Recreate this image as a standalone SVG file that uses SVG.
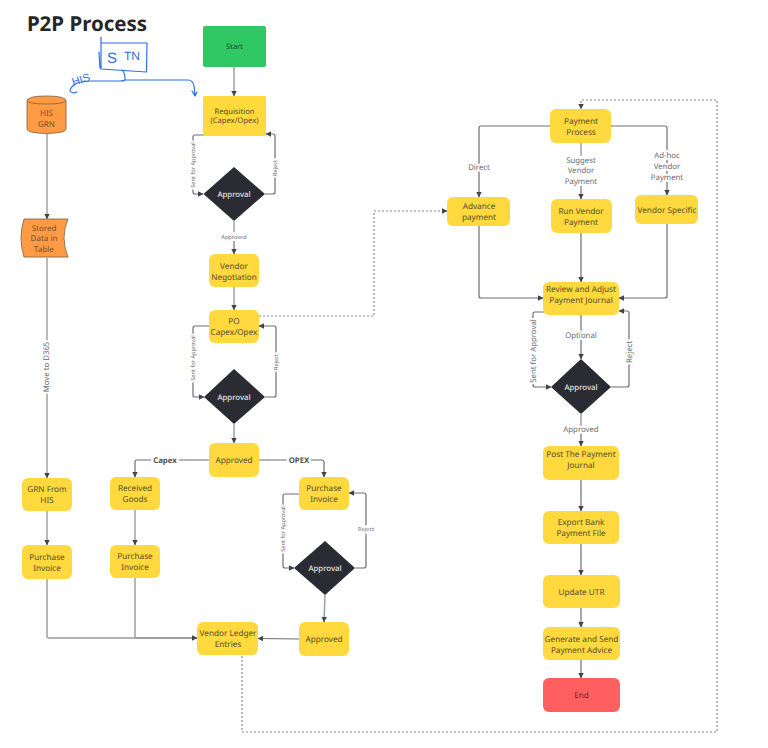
<svg xmlns="http://www.w3.org/2000/svg" width="768" height="748" viewBox="0 0 768 748">
<style>
text{font-family:"Noto Sans","Open Sans","Liberation Sans",sans-serif;text-anchor:middle;text-rendering:geometricPrecision}
.y{fill:#ffd93d}.o{fill:#ff9b45;stroke:#8a6a4a;stroke-width:.9}.k{fill:#2b2b33}
.t{font-size:8.2px;fill:#544c2c}.ts{font-size:7.6px;fill:#544c2c}
.w{font-size:7.8px;fill:#e4e4e4;font-weight:500}
.ot{font-size:8px;fill:#70502f}
.c{fill:none;stroke:#6f6f73;stroke-width:1.2}
.g{fill:none;stroke:#9b9b9e;stroke-width:1.4}
.d{fill:none;stroke:#8a8a8a;stroke-width:1.2;stroke-dasharray:2 2}
.a{marker-end:url(#ah)}
.l{fill:#6a6a6e;paint-order:stroke;stroke:#fff;stroke-width:4px;stroke-linejoin:round}
.l5{font-size:5.6px}.l8{font-size:7.8px}
.b{font-size:7.8px;font-weight:700;fill:#505054;paint-order:stroke;stroke:#fff;stroke-width:5px}
.h{fill:none;stroke:#2f6fe8;stroke-width:1.2;stroke-linecap:round;stroke-linejoin:round}
.ht{font-family:"Liberation Sans",sans-serif;fill:#2f6fe8}
</style>
<defs>
<marker id="ah" viewBox="0 0 6 6" refX="5.6" refY="3" markerWidth="5.5" markerHeight="5.5" markerUnits="userSpaceOnUse" orient="auto"><path d="M0 0L6 3L0 6Z" fill="#444448"/></marker>
</defs>
<rect width="768" height="748" fill="#fff"/>
<text id="title" x="87" y="31" style="font-size:20.5px;font-weight:700;fill:#262626">P2P Process</text>

<g id="connectors">
<path class="g a" d="M234 67V96"/>
<path class="c a" d="M204 135H195Q193 135 193 137V192Q193 194 195 194H203"/>
<path class="c a" d="M265 194H273Q275 194 275 192V136Q275 134 273 134H266"/>
<path class="g" d="M234 221V232"/><path class="c a" d="M234 240V254"/>
<path class="g a" d="M234 287V310"/>
<path class="c a" d="M209 326H195Q193 326 193 328V395Q193 397 195 397H204"/>
<path class="c a" d="M265 397H274Q276 397 276 395V328Q276 326 274 326H259"/>
<path class="g a" d="M234 424V443"/>
<path class="c a" d="M209 460H137Q135 460 135 462V477"/>
<path class="c a" d="M259 460H322Q324 460 324 462V477"/>
<path class="g a" d="M135 510V545"/>
<path class="c a" d="M299 494H285Q283 494 283 496V566Q283 568 285 568H294"/>
<path class="c a" d="M355 568H364Q366 568 366 566V495Q366 493 364 493H349"/>
<path class="g a" d="M325 595L324 622"/>
<path class="c a" d="M299 639L258 638.500"/>
<path class="g a" d="M47 133V219"/>
<path class="g a" d="M47 258V478"/>
<path class="g a" d="M47 511V545"/>
<path class="g" d="M47 579V636Q47 638 49 638H197"/>
<path class="g a" d="M135 578V636Q135 638 137 638H197"/>
<path class="c a" d="M550 126H481Q479 126 479 128V197"/>
<path class="g" d="M581 143V156"/><path class="c a" d="M581 184V199"/>
<path class="c a" d="M611 126H665Q667 126 667 128V195"/>
<path class="c a" d="M479 226V296Q479 298 481 298H543"/>
<path class="c a" d="M581 233V282"/>
<path class="c a" d="M667 224V296Q667 298 665 298H619"/>
<path class="c a" d="M581 315V359"/>
<path class="c a" d="M544 312H535Q533 312 533 314V385Q533 387 535 387H551"/>
<path class="c a" d="M611 387H627Q629 387 629 385V313Q629 311 627 311H619"/>
<path class="g" d="M581 414V428"/><path class="c a" d="M581 432V446"/>
<path class="c a" d="M581 480V511"/>
<path class="c a" d="M581 544V575"/>
<path class="c a" d="M581 608V627"/>
<path class="c a" d="M581 660V678"/>
<path class="d a" d="M259 316H374V211H447"/>
<path class="d a" d="M242 656V732H717V100H581V109"/>
<text class="l l5" transform="translate(195 165) rotate(-90)">Sent for Approval</text>
<text class="l l5" transform="translate(277 168) rotate(-90)">Reject</text>
<text class="l l5" x="234" y="239">Approved</text>
<text class="l l5" transform="translate(195 358) rotate(-90)">Sent for Approval</text>
<text class="l l5" transform="translate(278 362) rotate(-90)">Reject</text>
<text class="b" x="165" y="463">Capex</text>
<text class="b" x="299" y="463">OPEX</text>
<text class="l l5" transform="translate(285 529) rotate(-90)">Sent for Approval</text>
<text class="l l5" x="366" y="531">Reject</text>
<text class="l l8" transform="translate(49 367) rotate(-90)">Move to D365</text>
<text class="l l8" x="479" y="170">Direct</text>
<text class="l l8" x="581" y="163">Suggest</text>
<text class="l l8" x="581" y="173">Vendor</text>
<text class="l l8" x="581" y="184">Payment</text>
<text class="l l8" x="667" y="158">Ad-hoc</text>
<text class="l l8" x="667" y="169">Vendor</text>
<text class="l l8" x="667" y="180">Payment</text>
<text class="l l8" x="581" y="338">Optional</text>
<text class="l l8" transform="translate(536 351) rotate(-90)">Sent for Approval</text>
<text class="l l8" transform="translate(632 352) rotate(-90)">Reject</text>
<text class="l l8" x="581" y="432">Approved</text>
</g>

<g id="start"><rect x="203" y="26" width="63" height="41" rx="2" fill="#2fc862"/><text class="ts" x="234.500" y="49" style="fill:#1f4a2c">Start</text></g>
<g id="requisition"><rect class="y" x="203" y="96" width="63" height="40" rx="1.500"/><text class="ts" x="234.500" y="114">Requisition</text><text class="ts" x="234.500" y="123">(Capex/Opex)</text></g>
<g id="approval1"><path class="k" d="M234 167L265 194L234 221L203.500 194Z"/><text class="w" x="234" y="197">Approval</text></g>
<g id="vendor-negotiation"><rect class="y" x="209" y="254" width="50" height="33" rx="6"/><text class="t" x="234" y="269">Vendor</text><text class="t" x="234" y="280">Negotiation</text></g>
<g id="po"><rect class="y" x="209" y="310" width="50" height="33" rx="6"/><text class="t" x="234" y="324">PO</text><text class="t" x="234" y="335">Capex/Opex</text></g>
<g id="approval2"><path class="k" d="M234 369L265 397L234 424L204 397Z"/><text class="w" x="234" y="400">Approval</text></g>
<g id="approved1"><rect class="y" x="209" y="443" width="50" height="34" rx="6"/><text class="t" x="234" y="463">Approved</text></g>
<g id="received-goods"><rect class="y" x="110" y="477" width="50" height="33" rx="6"/><text class="t" x="135" y="491">Received</text><text class="t" x="135" y="502">Goods</text></g>
<g id="purchase-invoice2"><rect class="y" x="110" y="545" width="50" height="33" rx="6"/><text class="t" x="135" y="559">Purchase</text><text class="t" x="135" y="570">Invoice</text></g>
<g id="grn"><rect class="y" x="22" y="478" width="50" height="33" rx="6"/><text class="t" x="47" y="492">GRN From</text><text class="t" x="47" y="503">HIS</text></g>
<g id="purchase-invoice1"><rect class="y" x="22" y="545" width="50" height="34" rx="6"/><text class="t" x="47" y="560">Purchase</text><text class="t" x="47" y="571">Invoice</text></g>
<g id="purchase-invoice3"><rect class="y" x="299" y="477" width="50" height="33" rx="6"/><text class="t" x="324" y="491">Purchase</text><text class="t" x="324" y="502">Invoice</text></g>
<g id="approval3"><path class="k" d="M325 541L355 568L325 595L294 568Z"/><text class="w" x="325" y="571">Approval</text></g>
<g id="approved2"><rect class="y" x="299" y="622" width="50" height="34" rx="6"/><text class="t" x="324" y="642">Approved</text></g>
<g id="vendor-ledger"><rect class="y" x="197" y="622" width="61" height="33" rx="6"/><text class="t" x="228" y="636">Vendor Ledger</text><text class="t" x="228" y="647">Entries</text></g>
<g id="his-grn"><path class="o" d="M27 101V129Q27 133 46.500 133.500Q66 133 66 129V101Q66 96 46.500 96Q27 96 27 101Z"/><path fill="none" stroke="#8a6a4a" stroke-width=".9" d="M27 100Q27 104 46.500 104Q66 104 66 100"/><text class="ot" x="46.500" y="116">HIS</text><text class="ot" x="46.500" y="126.500">GRN</text></g>
<g id="stored-data"><path class="o" d="M24 219H68Q60 238 68 257H24Q18 238 24 219Z"/><text class="ot" x="44" y="230.500">Stored</text><text class="ot" x="44" y="241">Data in</text><text class="ot" x="44" y="251.500">Table</text></g>

<g id="payment-process"><rect class="y" x="550" y="109" width="61" height="34" rx="6"/><text class="t" x="581" y="124">Payment</text><text class="t" x="581" y="135">Process</text></g>
<g id="advance-payment"><rect class="y" x="447" y="197" width="63" height="29" rx="6"/><text class="t" x="479" y="209">Advance</text><text class="t" x="479" y="220">payment</text></g>
<g id="run-vendor-payment"><rect class="y" x="551" y="199" width="61" height="34" rx="6"/><text class="t" x="581" y="214">Run Vendor</text><text class="t" x="581" y="225">Payment</text></g>
<g id="vendor-specific"><rect class="y" x="635" y="195" width="63" height="29" rx="6"/><text class="t" x="667" y="213">Vendor Specific</text></g>
<g id="review"><rect class="y" x="543" y="282" width="76" height="33" rx="6"/><text class="t" x="581" y="292">Review and Adjust</text><text class="t" x="581" y="303">Payment Journal</text></g>
<g id="approval4"><path class="k" d="M581 359L611 387L581 414L551 387Z"/><text class="w" x="581" y="390">Approval</text></g>
<g id="post-journal"><rect class="y" x="543" y="446" width="76" height="34" rx="6"/><text class="t" x="581" y="457">Post The Payment</text><text class="t" x="581" y="468">Journal</text></g>
<g id="export"><rect class="y" x="543" y="511" width="76" height="33" rx="6"/><text class="t" x="581" y="525">Export Bank</text><text class="t" x="581" y="536">Payment File</text></g>
<g id="update-utr"><rect class="y" x="543" y="575" width="77" height="33" rx="6"/><text class="t" x="581.500" y="595">Update UTR</text></g>
<g id="generate"><rect class="y" x="543" y="627" width="77" height="33" rx="6"/><text class="t" x="581.500" y="642">Generate and Send</text><text class="t" x="581.500" y="652.500">Payment Advice</text></g>
<g id="end"><rect x="543" y="678" width="77" height="34" rx="6" fill="#ff5f5f"/><text class="t" x="581.500" y="698" style="fill:#6b2430">End</text></g>

<g id="handwriting">
<path class="h" d="M101 37V43H147L146.500 72L101 69V43M99 52L100 68"/>
<path class="h" d="M122 70Q125 72 125 80Q124 81 120 81H92Q84 81 77 83Q70 87 70 91Q72 94 77 92M125 80H188Q193 80 194 86L195 95M192 91L195 96L197 92"/>
<text class="ht" x="112" y="63" style="font-size:15px;font-weight:400">S</text>
<text class="ht" x="132" y="60" style="font-size:12px;font-weight:400">TN</text>
<text class="ht" transform="translate(82 83) rotate(-18)" style="font-size:11px">HIS</text>
</g>
</svg>
